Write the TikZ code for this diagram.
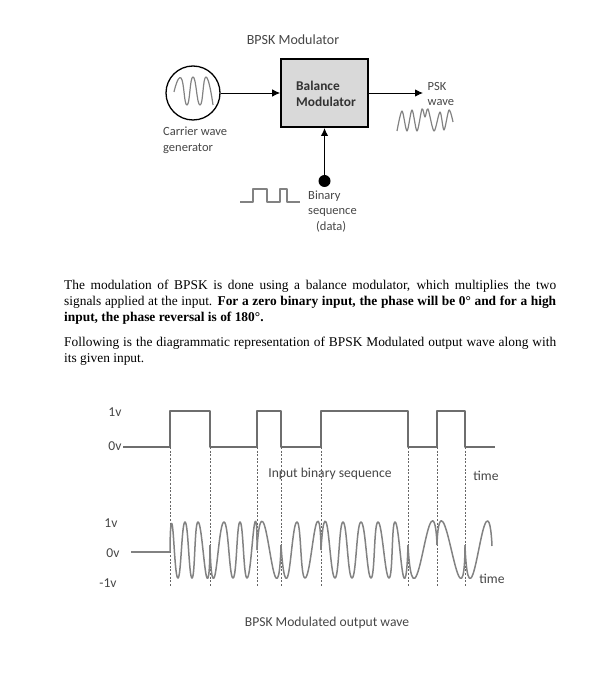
\documentclass[tikz,border=0pt]{standalone}
\usepackage{fontspec}
\usepackage{xcolor}
\usepackage{tikz}
\usetikzlibrary{arrows.meta, positioning}
\setmainfont{Liberation Serif}
\newfontfamily\labelfont{Carlito}
\definecolor{labelgray}{RGB}{70,70,70}
\definecolor{tracegray}{RGB}{130,130,130}
\definecolor{boxgray}{RGB}{217,217,217}
\tikzset{
  lbl/.style={font=\labelfont\fontsize{12.5}{15.5}\selectfont, text=labelgray, inner sep=0pt},
  biglbl/.style={font=\labelfont\fontsize{13.6}{16}\selectfont, text=labelgray, inner sep=0pt},
  para/.style={font=\fontsize{13.4}{15.9}\selectfont, text width=492pt, align=justify, inner sep=0pt, anchor=north west},
  sigarrow/.style={-{Latex[length=8pt,width=7.5pt]}, line width=.9pt, black},
  trace/.style={line width=1.5pt, tracegray, line join=round},
  pulse/.style={line width=2pt, tracegray!85!black, line join=round},
  tick/.style={dash pattern=on 2pt off 1.6pt, line width=.8pt, black!60}
}
\begin{document}
\begin{tikzpicture}[x=1pt, y=-1pt]
  \useasboundingbox (0,0) rectangle (610,700);
  % block diagram
  \node[biglbl, font=\labelfont\fontsize{14}{16}\selectfont] (title) at (293,40) {BPSK Modulator};
  \node[draw, line width=1.7pt, fill=boxgray, minimum width=87pt, minimum height=68pt, inner sep=0pt] (mod) at (324.5,93) {};
  \node[lbl, font=\labelfont\bfseries\fontsize{13.4}{16}\selectfont, text=black!80, align=left, anchor=west] (modtext) at (296,94) {Balance\\Modulator};
  \node[circle, draw, line width=1.3pt, minimum size=54pt, inner sep=0pt] (gen) at (193,93) {};
  \node[lbl, align=left, anchor=north west] (gentext) at (163,127) {Carrier wave\\generator};
  \node[circle, fill=black, minimum size=12pt, inner sep=0pt] (dot) at (324.5,181) {};
  \coordinate (out) at (423,93);
  \draw[sigarrow] (gen) -- (mod);
  \draw[sigarrow] (mod) -- (out);
  \draw[sigarrow, line width=1.8pt] (dot) -- (mod);
  \node[lbl, align=left, anchor=west] (psktext) at (427.5,94) {PSK\\wave};
  \node[lbl, align=left, anchor=north west] (bintext) at (308,190.5) {Binary\\sequence\\\hspace*{8pt}(data)};
  % small waves
  \draw[trace, line width=1.2pt] plot[smooth, tension=.9] coordinates {(174,92)(181,78)(187,105)(193,77)(200,105)(206,77)(213,105)};
  \draw[trace, line width=1.2pt] plot[smooth] coordinates {(397,131)(402,111)(407,131)(412,110)(417,131)(422,109)(425,117)(428,109)(434,131)(440,112)(444,130)(449,110)(453,122)};
  \draw[trace] (240,202) -- (253,202) -- (253,189) -- (267,189) -- (267,202) -- (280,202) -- (280,189) -- (287,189) -- (287,202) -- (300,202);
  % text
  \node[para] (para1) at (64,280) {The modulation of BPSK is done using a balance modulator, which multiplies the two\linebreak signals applied at the input. \textbf{For a zero binary input, the phase will be 0° and for a high\linebreak input, the phase reversal is of 180°.}};
  \node[para] (para2) at (64,337) {Following is the diagrammatic representation of BPSK Modulated output wave along with\linebreak its given input.};
  % input sequence
  \node[biglbl] (oneA) at (115,412) {1v};
  \node[biglbl] (zeroA) at (115,446) {0v};
  \draw[pulse] (123,447) -- (170,447) -- (170,411) -- (210,411) -- (210,447) -- (257,447) -- (257,411) -- (281,411) -- (281,447) -- (321,447) -- (321,411) -- (408,411) -- (408,447) -- (437,447) -- (437,411) -- (465,411) -- (465,447) -- (495,447);
  \foreach \i/\x in {1/170, 2/210, 3/257, 4/281, 5/321, 6/408, 7/437, 8/465} {
    \coordinate (top\i) at (\x,447);
    \coordinate (bot\i) at (\x,586);
    \draw[tick] (top\i) -- (bot\i);
  }
  \node[biglbl] (inputtext) at (330,473.5) {Input binary sequence};
  \node[biglbl] (timeA) at (486,476) {time};
  % modulated wave
  \node[biglbl] (oneB) at (111,523) {1v};
  \node[biglbl] (zeroB) at (113,553) {0v};
  \node[biglbl] (minusB) at (108,583) {-1v};
  \draw[trace] (131,552) -- (170,552);
  \draw[trace] plot[smooth, tension=.85] coordinates {(170,552)(172,524)(178,578)(185,522)(192,578)(198,522)(207,578)(210,545)};
  \draw[trace] plot[smooth, tension=.85] coordinates {(210,545)(214,578)(224,522)(233,578)(240,522)(247,578)(255,522)(257,550)};
  \draw[trace] plot[smooth, tension=.85] coordinates {(257,550)(263,522)(276,578)(281,545)};
  \draw[trace] plot[smooth, tension=.85] coordinates {(281,545)(287,578)(297,522)(305,578)(317,522)(321,550)};
  \draw[trace] plot[smooth, tension=.85] coordinates {(321,550)(326,522)(335,578)(343,522)(352,578)(361,522)(371,578)(378,522)(389,578)(395,522)(404,578)(408,545)};
  \draw[trace] plot[smooth, tension=.85] coordinates {(408,545)(415,578)(431,522)(437,545)};
  \draw[trace] plot[smooth, tension=.85] coordinates {(437,545)(443,522)(460,578)(465,545)};
  \draw[trace] plot[smooth, tension=.85] coordinates {(465,545)(471,578)(486,522)(492,546)};
  \node[biglbl] (timeB) at (492,579) {time};
  \node[biglbl] (outtext) at (327,623) {BPSK Modulated output wave};
\end{tikzpicture}
\end{document}
